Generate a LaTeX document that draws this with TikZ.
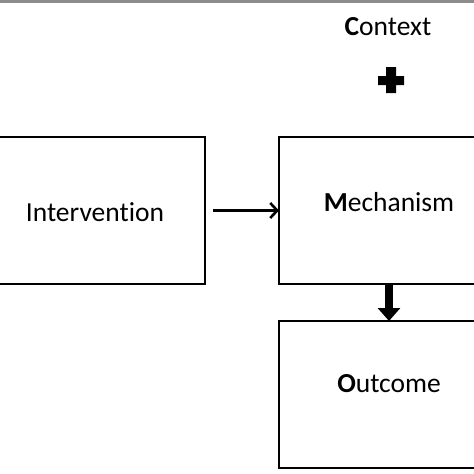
\documentclass[tikz,border=0pt]{standalone}
\usepackage{fontspec}
\setmainfont{Carlito}[Ligatures=NoCommon]
\usetikzlibrary{arrows.meta,positioning}
\tikzset{
	cmoBox/.style={draw, line width=1.8pt, minimum width=220pt, minimum height=147pt, outer sep=0},
	cmoText/.style={inner sep=0, outer sep=0, font=\fontsize{27.5}{33}\selectfont},
}
\newcommand{\cmo}[2]{\textbf{#1}#2}

\begin{document}
\begin{tikzpicture}[x=1pt, y=-1pt, >=Stealth]
	\clip (0,0) rectangle (474,474);
	\useasboundingbox (0,0) rectangle (474,474);
	\fill[black!45] (0,0) rectangle (474,3);
	\node[cmoText] (ctx) at (388, 27) {\cmo{C}{ontext}};
	\fill (378,76) -- (386,76) -- (386,67) -- (396,67) -- (396,76) -- (404,76) -- (404,85)
		-- (396,85) -- (396,93) -- (386,93) -- (386,85) -- (378,85) -- cycle;
	\node[cmoBox] (int) at (95, 210.5) {};
	\node[cmoText] (int_t) at (95, 212) {Intervention};
	\node[cmoBox] (mech) at (389, 210.5) {};
	\node[cmoText] (mech_t) at (389, 202) {\cmo{M}{echanism}};
	\node[cmoBox] (out) at (389, 394.5) {};
	\node[cmoText] (out_t) at (389, 384) {\cmo{O}{utcome}};
	\draw[line width=2.6pt, shorten <=8pt, -{Straight Barb[length=7pt, width=15pt, line width=2.6pt]}] (int.east) -- (mech.west);
	\draw[line width=8pt, -{Triangle[length=13pt, width=22pt]}] (mech.south) -- (out.north);
\end{tikzpicture}
\end{document}
